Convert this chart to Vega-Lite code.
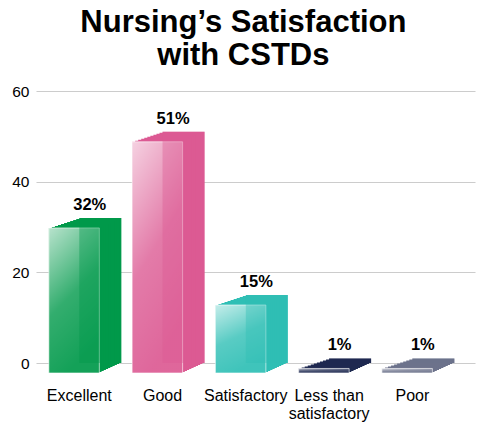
{
  "$schema": "https://vega.github.io/schema/vega-lite/v6.json",
  "autosize": {"type": "none"},
  "width": 439,
  "height": 272,
  "padding": {"left": 36, "top": 91, "right": 12, "bottom": 74},
  "background": "white",
  "title": {
    "text": ["Nursing’s Satisfaction", "with CSTDs"],
    "font": "Liberation Sans",
    "fontWeight": "bold",
    "fontSize": 31,
    "lineHeight": 33,
    "color": "#000000",
    "anchor": "middle",
    "frame": "bounds",
    "offset": 12
  },
  "config": {
    "view": {"stroke": null},
    "axis": {"labelFont": "Liberation Sans", "labelColor": "#000000", "domain": false, "ticks": false, "title": null}
  },
  "data": {
    "values": [
      {"category": "Excellent", "value": 32, "pct": "32%"},
      {"category": "Good", "value": 51, "pct": "51%"},
      {"category": "Satisfactory", "value": 15, "pct": "15%"},
      {"category": "Less than satisfactory", "value": 1, "pct": "1%"},
      {"category": "Poor", "value": 1, "pct": "1%"}
    ]
  },
  "encoding": {
    "x": {
      "field": "category",
      "type": "nominal",
      "sort": null,
      "scale": {"paddingInner": 0, "paddingOuter": 0.136, "align": 1},
      "axis": {
        "labelAngle": 0,
        "labelFontSize": 16,
        "labelPadding": 24,
        "labelOffset": -21,
        "labelLineHeight": 18.5,
        "labelExpr": "datum.value == 'Less than satisfactory' ? ['Less than', 'satisfactory'] : datum.value",
        "grid": false
      }
    },
    "y": {
      "field": "value",
      "type": "quantitative",
      "scale": {"domain": [0, 60], "nice": false},
      "axis": {
        "values": [0, 20, 40, 60],
        "labelFontSize": 15.5,
        "labelPadding": 7,
        "grid": true,
        "gridColor": "#cccccc",
        "gridWidth": 1.2
      }
    },
    "color": {
      "field": "category",
      "type": "nominal",
      "legend": null,
      "scale": {
        "domain": ["Excellent", "Good", "Satisfactory", "Less than satisfactory", "Poor"],
        "range": ["#00994a", "#dc5a93", "#2fbfb5", "#1e2950", "#6c728b"]
      }
    }
  },
  "layer": [
    {"mark": {"type": "bar", "width": 42, "xOffset": 0, "yOffset": 0, "y2Offset": 0}},
    {"mark": {"type": "bar", "width": 42.85, "xOffset": -2.62, "yOffset": 1, "y2Offset": 1}},
    {"mark": {"type": "bar", "width": 43.7, "xOffset": -5.24, "yOffset": 2, "y2Offset": 2}},
    {"mark": {"type": "bar", "width": 44.55, "xOffset": -7.86, "yOffset": 3, "y2Offset": 3}},
    {"mark": {"type": "bar", "width": 45.4, "xOffset": -10.48, "yOffset": 4, "y2Offset": 4}},
    {"mark": {"type": "bar", "width": 46.25, "xOffset": -13.1, "yOffset": 5, "y2Offset": 5}},
    {"mark": {"type": "bar", "width": 47.1, "xOffset": -15.72, "yOffset": 6, "y2Offset": 6}},
    {"mark": {"type": "bar", "width": 47.95, "xOffset": -18.34, "yOffset": 7, "y2Offset": 7}},
    {"mark": {"type": "bar", "width": 48.8, "xOffset": -20.96, "yOffset": 8, "y2Offset": 8}},
    {"mark": {"type": "bar", "width": 49.65, "xOffset": -23.58, "yOffset": 9, "y2Offset": 9}},
    {"mark": {"type": "bar", "width": 50.5, "xOffset": -26.2, "yOffset": 10, "y2Offset": 10, "stroke": "#ffffff", "strokeWidth": 1, "strokeOpacity": 0.6}},
    {
      "mark": {
        "type": "bar", "width": 50.5, "xOffset": -26.2, "yOffset": 10, "y2Offset": 10,
        "fill": {
          "gradient": "linear", "x1": 0, "y1": 0, "x2": 0.35, "y2": 1,
          "stops": [
            {"offset": 0, "color": "rgba(255,255,255,0.72)"},
            {"offset": 0.55, "color": "rgba(255,255,255,0.2)"},
            {"offset": 1, "color": "rgba(255,255,255,0.08)"}
          ]
        }
      },
      "encoding": {"color": {"value": null}}
    },
    {"mark": {"type": "bar", "width": 42, "xOffset": 0, "yOffset": 0, "y2Offset": 0, "opacity": 0.4}},
    {
      "mark": {"type": "text", "font": "Liberation Sans", "fontWeight": "bold", "fontSize": 16.5, "color": "#000000", "baseline": "alphabetic", "dx": -10.5, "dy": -8},
      "encoding": {"text": {"field": "pct"}, "color": {"value": "#000000"}}
    }
  ]
}
